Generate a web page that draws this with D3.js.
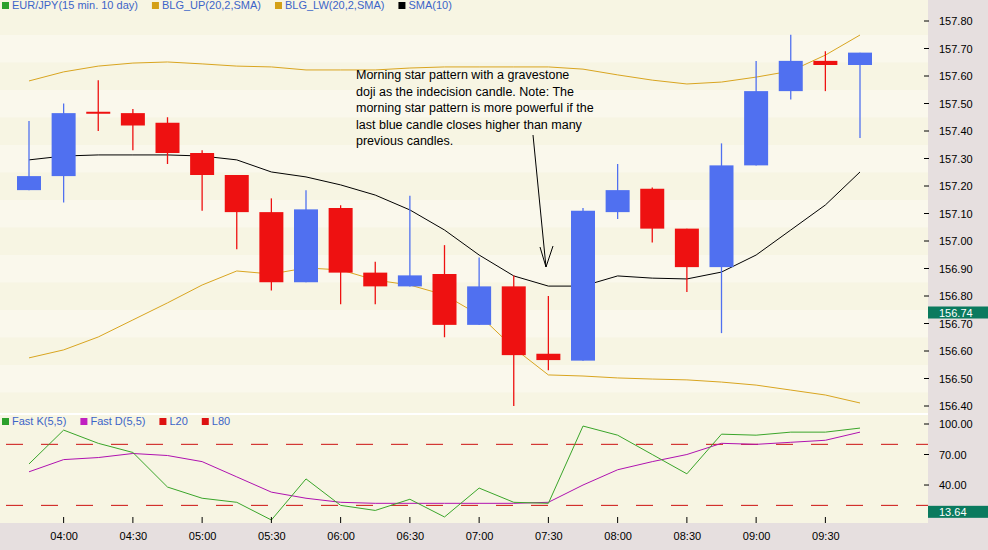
<!DOCTYPE html>
<html><head><meta charset="utf-8">
<script src="https://cdn.jsdelivr.net/npm/d3@7"></script>
<style>body{margin:0;background:#e6dfdf}svg text{font-family:Arial,"Liberation Sans",sans-serif}</style>
</head><body><svg id="c" width="988" height="550"></svg>
<script>
const times=["03:45","04:00","04:15","04:30","04:45","05:00","05:15","05:30","05:45","06:00","06:15","06:30","06:45","07:00","07:15","07:30","07:45","08:00","08:15","08:30","08:45","09:00","09:15","09:30","09:45"];
const open=[157.185,157.236,157.47,157.465,157.43,157.32,157.24,157.105,156.85,157.12,156.885,156.835,156.88,156.695,156.835,156.59,156.565,157.105,157.19,157.045,156.905,157.275,157.545,157.655,157.64];
const high=[157.436,157.50,157.585,157.48,157.45,157.33,157.24,157.155,157.185,157.13,156.925,157.165,156.985,156.94,156.875,156.80,157.12,157.28,157.195,157.045,157.355,157.655,157.75,157.69,157.685];
const low=[157.185,157.14,157.40,157.33,157.28,157.11,156.97,156.82,156.85,156.77,156.77,156.835,156.65,156.695,156.40,156.53,156.565,157.08,156.995,156.815,156.665,157.275,157.515,157.545,157.375];
const close=[157.236,157.465,157.465,157.42,157.32,157.24,157.105,156.85,157.115,156.885,156.835,156.875,156.695,156.835,156.585,156.567,157.11,157.185,157.045,156.905,157.275,157.545,157.655,157.64,157.685];
const sma=[157.295,157.309,157.313,157.313,157.313,157.309,157.295,157.251,157.233,157.204,157.167,157.113,157.040,156.949,156.873,156.836,156.836,156.873,156.865,156.862,156.887,156.949,157.04,157.131,157.251];
const bandUp=[157.582,157.615,157.636,157.647,157.651,157.644,157.636,157.633,157.622,157.622,157.622,157.629,157.633,157.633,157.633,157.633,157.625,157.604,157.585,157.571,157.578,157.596,157.618,157.676,157.749];
const bandLow=[156.575,156.604,156.651,156.713,156.775,156.84,156.891,156.88,156.902,156.895,156.858,156.84,156.804,156.731,156.611,156.513,156.509,156.502,156.498,156.495,156.487,156.476,156.458,156.44,156.411];
const fastK=[60.7,94,81,72,38,27,23,5.6,46,20,15,26,8.6,37,23,22,98,89,70,51,90,89,92,92,96];
const fastD=[53,65,67,71,69,63,48,33,27,23,22,22,22,22,22,23,40,55,63,70,81,80,82,84,92];
const priceTicks=[157.8,157.7,157.6,157.5,157.4,157.3,157.2,157.1,157.0,156.9,156.8,156.7,156.6,156.5,156.4];
const stochTicks=[100,70,40];
const timeTickIdx=[1,3,5,7,9,11,13,15,17,19,21,23];
const lastPrice=156.74, lastStoch=13.64;
const note=["Morning star pattern with a gravestone","doji as the indecision candle. Note: The","morning star pattern is more powerful if the","last blue candle closes higher than many","previous candles."];

const svg=d3.select("#c");
const W=928;
const x=d3.scaleLinear().domain([0,24]).range([29,860]);
const y=d3.scaleLinear().domain([156.4,157.8]).range([406,21]);
const ys=d3.scaleLinear().domain([0,100]).range([525.7,424]);
// backgrounds
svg.append("rect").attr("width",W).attr("height",413).attr("fill","#f7f5e3");
for(let i=0;i<14;i++) if(i%2==0) svg.append("rect").attr("x",0).attr("width",W).attr("y",y(157.8-0.1*i)+14).attr("height",27.5).attr("fill","#faf8ec");
svg.append("rect").attr("y",415).attr("width",W).attr("height",108).attr("fill","#f7f5e3");
svg.append("rect").attr("y",413).attr("width",W).attr("height",2).attr("fill","#ffffff");
// bands
const line=d3.line().x((d,i)=>x(i)).y(d=>y(d));
svg.append("path").attr("d",line(bandUp)).attr("fill","none").attr("stroke","#d9a520").attr("stroke-width",1);
svg.append("path").attr("d",line(bandLow)).attr("fill","none").attr("stroke","#d9a520").attr("stroke-width",1);
svg.append("path").attr("d",line(sma)).attr("fill","none").attr("stroke","#000").attr("stroke-width",1);
// candles
const bw=24;
times.forEach((t,i)=>{
  const up=close[i]>=open[i], col=up?"#5070f0":"#ee1111";
  svg.append("line").attr("x1",x(i)).attr("x2",x(i)).attr("y1",y(high[i])).attr("y2",y(low[i])).attr("stroke",col).attr("stroke-width",1.3);
  const t0=y(Math.max(open[i],close[i])), b0=y(Math.min(open[i],close[i]));
  svg.append("rect").attr("x",x(i)-bw/2).attr("width",bw).attr("y",t0).attr("height",Math.max(2,b0-t0)).attr("fill",col);
});
// stochastic
svg.append("line").attr("x1",6).attr("x2",W).attr("y1",ys(80)).attr("y2",ys(80)).attr("stroke","#cc1111").attr("stroke-dasharray","17,18");
svg.append("line").attr("x1",6).attr("x2",W).attr("y1",ys(20)).attr("y2",ys(20)).attr("stroke","#cc1111").attr("stroke-dasharray","17,18");
const sl=d3.line().x((d,i)=>x(i)).y(d=>ys(d));
svg.append("path").attr("d",sl(fastD)).attr("fill","none").attr("stroke","#b012b0");
svg.append("path").attr("d",sl(fastK)).attr("fill","none").attr("stroke","#3aa52a");
// axes
const ya=svg.append("g").attr("transform",`translate(${W},0)`).call(d3.axisRight(y).tickValues(priceTicks).tickFormat(d3.format(".2f")).tickSize(0).tickPadding(11));
ya.select(".domain").remove(); ya.selectAll("text").attr("font-size",11).attr("fill","#000");
priceTicks.forEach(p=>svg.append("line").attr("x1",W-4).attr("x2",W+1).attr("y1",y(p)).attr("y2",y(p)).attr("stroke","#000"));
const sa=svg.append("g").attr("transform",`translate(${W},0)`).call(d3.axisRight(ys).tickValues(stochTicks).tickFormat(d3.format(".2f")).tickSize(0).tickPadding(11));
sa.select(".domain").remove(); sa.selectAll("text").attr("font-size",11).attr("fill","#000");
stochTicks.forEach(p=>svg.append("line").attr("x1",W-4).attr("x2",W+1).attr("y1",ys(p)).attr("y2",ys(p)).attr("stroke","#000"));
function badge(v,yy){svg.append("rect").attr("x",W).attr("y",yy-6).attr("width",60).attr("height",12).attr("fill","#0a7a5e");
 svg.append("text").attr("x",W+11).attr("y",yy+4).attr("font-size",11).attr("fill","#fff").text(v.toFixed(2));}
badge(lastPrice,y(lastPrice)); badge(lastStoch,ys(lastStoch));
const xa=svg.append("g").attr("transform","translate(0,523)").call(d3.axisBottom(x).tickValues(timeTickIdx).tickFormat(i=>times[i]).tickSize(0).tickPadding(9));
xa.select(".domain").remove(); xa.selectAll("text").attr("font-size",11).attr("fill","#000");
timeTickIdx.forEach(i=>svg.append("line").attr("x1",x(i)).attr("x2",x(i)).attr("y1",517).attr("y2",523).attr("stroke","#000"));
// legends
function legend(items,yy){let cx=2;items.forEach(([c,t])=>{svg.append("rect").attr("x",cx).attr("y",yy-7).attr("width",7).attr("height",7).attr("fill",c);
 const tx=svg.append("text").attr("x",cx+10).attr("y",yy).attr("font-size",11).attr("fill","#3c64c8").text(t);cx+=10+tx.node().getComputedTextLength()+14;});}
legend([["#2ca02c","EUR/JPY(15 min.  10 day)"],["#d4a017","BLG_UP(20,2,SMA)"],["#d4a017","BLG_LW(20,2,SMA)"],["#000","SMA(10)"]],9);
legend([["#2ca02c","Fast K(5,5)"],["#c020c0","Fast D(5,5)"],["#dd1111","L20"],["#dd1111","L80"]],425);
// annotation
note.forEach((t,i)=>svg.append("text").attr("x",356).attr("y",79+i*16.5).attr("font-size",12.5).attr("fill","#000").text(t));
svg.append("line").attr("x1",533).attr("y1",135).attr("x2",546).attr("y2",267).attr("stroke","#000");
svg.append("path").attr("d","M540,247 L546,267 L553,246").attr("fill","none").attr("stroke","#000");
</script></body></html>
